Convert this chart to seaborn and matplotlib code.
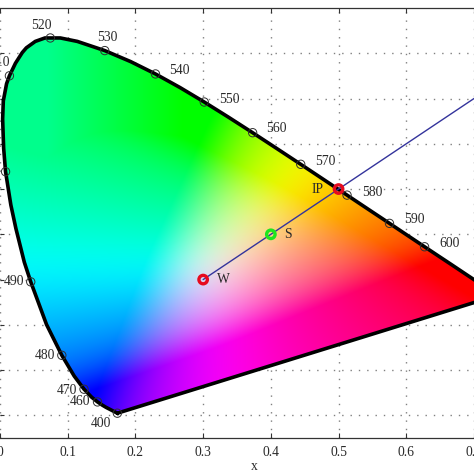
import numpy as np
import pandas as pd
import matplotlib
matplotlib.use("Agg")
import matplotlib.pyplot as plt
from matplotlib.patches import Polygon
import seaborn as sns

# CIE 1931 spectral locus
wl = [400, 450, 455, 460, 465, 470, 475, 480, 485, 490, 492, 495, 497, 500, 502, 503, 505, 507, 509, 510, 512, 514, 515,
      517, 519, 520, 522, 525, 530, 535, 540, 545,
      550, 555, 560, 565, 570, 575, 580, 585, 590, 595, 600, 605, 610, 620, 630, 700]
lx = [.1733, .1566, .1510, .1440, .1355, .1241, .1096, .0913, .0687, .0454, .0359, .0235, .0160, .0082, .0054, .0047, .0039,
      .0049, .0097, .0139, .0228, .0329, .0389, .0521, .0664, .0743, .0891, .1142, .1547, .1929, .2296, .2658,
      .3016, .3373, .3731, .4087, .4441, .4788, .5125, .5448, .5752, .6029, .6270, .6482, .6658, .6915, .7079, .7347]
ly = [.0048, .0177, .0227, .0297, .0399, .0578, .0868, .1327, .2007, .2950, .3384, .4127, .4650, .5384, .5898, .6187, .6548,
      .6949, .7327, .7502, .7779, .8016, .8120, .8262, .8338, .8338, .8338, .8262, .8059, .7816, .7543, .7243,
      .6923, .6589, .6245, .5896, .5547, .5202, .4866, .4544, .4242, .3965, .3725, .3514, .3340, .3083, .2920, .2653]
marked = [400, 460, 470, 480, 490, 500, 510, 520, 530, 540, 550, 560, 570, 580, 590, 600]
labelled = [400, 460, 470, 480, 490, 510, 520, 530, 540, 550, 560, 570, 580, 590, 600]
offs_x = [-16, -18, -17, -17, -17, -10, -9, 3, 24, 25, 24, 25, 25, 25, 25]
offs_y = [-10, 0, -1, 0, 0, 13, 12, 13, 3, 3, 4, 3, 3, 4, 3]
pts_name = ["W", "S", "IP"]
pts_x = [0.3, 0.4, 0.5]
pts_y = [0.3, 0.4, 0.5]
pts_col = ["#e60a1e", "#1ee61e", "#e60a1e"]
pts_off = [(20, 0), (17, 0), (-21, 0)]
line_x = [0.3, 0.72]
line_y = [0.3, 0.72]
xticks = [0, .1, .2, .3, .4, .5, .6, .7]
xticklabels = ["0", "0.1", "0.2", "0.3", "0.4", "0.5", "0.6", "0.7"]
yticks = [0, .1, .2, .3, .4, .5, .6, .7, .8]

sns.set_theme(style="white")
plt.rcParams["font.family"] = ["Liberation Serif", "DejaVu Serif"]
plt.rcParams["text.color"] = "#2a2a2a"

fig = plt.figure(figsize=(4.74, 4.74), dpi=100)
ax = fig.add_axes([0, 36 / 474, 1, 430 / 474])
ax.set_xlim(0, 0.7)
ax.set_ylim(-0.05, 0.9)
ax.grid(True, color="#808080", linestyle=(0, (1, 5)), linewidth=1)
ax.set_axisbelow(True)

# chromaticity colour field, softened
gx, gy = np.meshgrid(np.linspace(-.1, 0.86, 480), np.linspace(-.1, 1.0, 480))
gy2 = np.clip(gy, 0.002, None)
X, Z = np.clip(gx, 0, None) / gy2, np.clip(1 - gx - gy2, 0, None) / gy2
r = 3.2406 * X - 1.5372 - 0.4986 * Z
g = -0.9689 * X + 1.8758 + 0.0415 * Z
b = 0.0557 * X - 0.2040 + 1.0570 * Z
rgb = np.clip(np.dstack([r, g, b]), 0, None)
rgb = rgb / rgb.max(axis=2, keepdims=True).clip(1e-6)
rgb = rgb ** (1 / 3.0)


def blur(a, sig, axis):
    k = np.exp(-0.5 * (np.arange(-3 * int(sig), 3 * int(sig) + 1) / sig) ** 2)
    k /= k.sum()
    pad = [(0, 0)] * 3
    pad[axis] = (len(k) // 2, len(k) // 2)
    p = np.pad(a, pad, mode="edge")
    return np.apply_along_axis(lambda v: np.convolve(v, k, mode="valid"), axis, p)


rgb = blur(blur(rgb, 16, 0), 18, 1)
rgb = ((rgb - 0.2) / 0.8).clip(0, 1)
w = np.clip((0.27 - gx) / 0.2, 0, 1)
rgb[..., 2] = np.maximum(rgb[..., 2], 0.55 * w * rgb[..., 1])
im = ax.imshow(rgb, origin="lower", extent=(-.1, 0.86, -.1, 1.0), aspect="auto", interpolation="bilinear", zorder=2)
poly = Polygon(np.c_[lx, ly], closed=True, transform=ax.transData, fc="none", ec="none")
ax.add_patch(poly)
im.set_clip_path(poly)
ax.set_xlim(0, 0.7)
ax.set_ylim(-0.05, 0.9)

locus = pd.DataFrame({"x": lx + lx[:1], "y": ly + ly[:1], "o": range(len(lx) + 1)})
sns.lineplot(data=locus, x="x", y="y", sort=False, estimator=None, units=None, color="black", lw=2.6, ax=ax, zorder=3,
             solid_joinstyle="round")
sns.lineplot(x=line_x, y=line_y, sort=False, estimator=None, color="#34349c", lw=1, ax=ax, zorder=4)

df = pd.DataFrame({"wl": wl, "x": lx, "y": ly}).set_index("wl")
m = df.loc[marked]
sns.scatterplot(data=m, x="x", y="y", s=36, facecolor="none", edgecolor="#303030", linewidth=0.7, ax=ax, zorder=5)
for wv, dx, dy in zip(labelled, offs_x, offs_y):
    ax.annotate(str(wv), (df.x[wv], df.y[wv]), xytext=(dx, dy), textcoords="offset pixels", ha="center", va="center",
                fontsize=9.8, zorder=6, annotation_clip=False)
for n, x, y, c, o in zip(pts_name, pts_x, pts_y, pts_col, pts_off):
    sns.scatterplot(x=[x], y=[y], s=37, facecolor="none", edgecolor=c, linewidth=2.4, ax=ax, zorder=7)
    ax.annotate(n, (x, y), xytext=o, textcoords="offset pixels", ha="center", va="center", fontsize=9.8, zorder=6)

ax.set_xticks(xticks, xticklabels)
ax.set_yticks(yticks, [])
ax.tick_params(axis="x", which="both", direction="in", top=True, bottom=True, length=3.6, width=0.8, color="#333333",
               labelsize=9.8, pad=6, labelcolor="#2a2a2a")
ax.tick_params(axis="y", which="both", direction="in", left=True, length=3, width=0.8, color="#333333")
for s in ["left", "right"]:
    ax.spines[s].set_visible(False)
for s in ["top", "bottom"]:
    ax.spines[s].set_color("#333333")
    ax.spines[s].set_linewidth(0.9)
ax.set_ylabel("")
ax.set_xlabel("x", fontsize=9.8, color="#2a2a2a")
ax.xaxis.set_label_coords(254 / 474, -29 / 430)
ax.xaxis.label.set_va("center")
fig.savefig("out.png", dpi=100)
